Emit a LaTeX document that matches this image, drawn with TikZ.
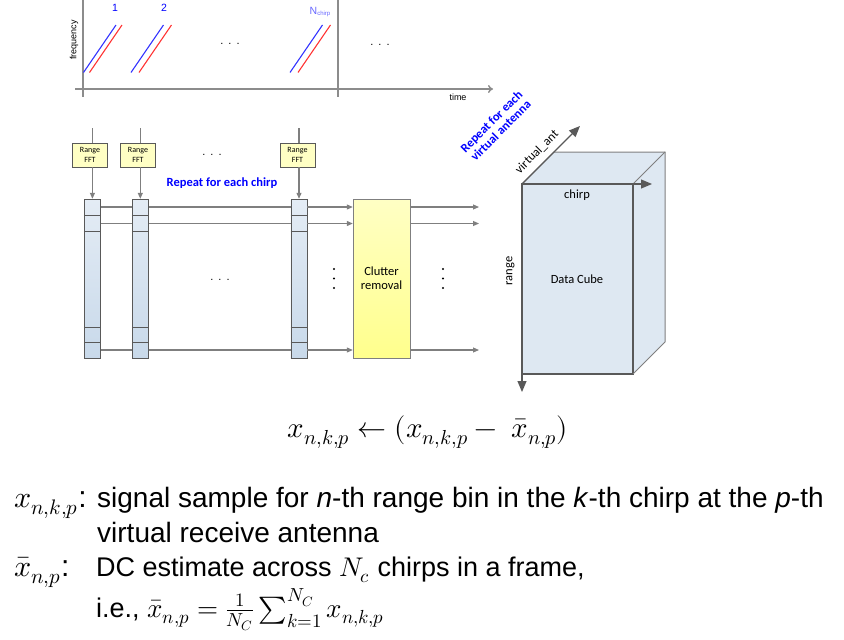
\documentclass[tikz,border=0pt]{standalone}
\usepackage{fontspec}
\usepackage{unicode-math}
\setmainfont{Liberation Sans}
\setmathfont{Latin Modern Math}
\newfontfamily\calib{Carlito}
\usetikzlibrary{arrows.meta}
\definecolor{axgray}{HTML}{8C8C8C}
\definecolor{dgray}{HTML}{595959}
\definecolor{lgray}{HTML}{7F7F7F}
\definecolor{fftfill}{HTML}{FFFFC4}
\definecolor{coltop}{HTML}{E4ECF5}
\definecolor{colbot}{HTML}{C8D9EA}
\definecolor{cubefill}{HTML}{DEE8F2}
\definecolor{chirpblue}{HTML}{3333FF}
\definecolor{chirpred}{HTML}{FF3333}
\definecolor{txtblue}{HTML}{0000FF}
\definecolor{nblue}{HTML}{6666FF}
\tikzset{
  px/.style={font=\fontsize{#1}{#1}\selectfont},
  fftbox/.style={draw=dgray, fill=fftfill, minimum width=35, minimum height=24, inner sep=0, align=center, font=\calib\fontsize{8}{10}\selectfont},
  colbox/.style={draw=dgray, top color=coltop, bottom color=colbot, minimum width=16.5, minimum height=159, inner sep=0},
  conn/.style={draw=lgray, line width=1.1},
  arr/.style={conn, -{Triangle[length=6,width=5]}},
  bigarr/.style={draw=dgray, line width=1.1, -{Triangle[length=11,width=9]}},
  axis/.style={draw=axgray, line width=1.5},
  blab/.style={font=\calib\bfseries\fontsize{12.5}{13}\selectfont, text=txtblue, inner sep=0},
  clab/.style={font=\calib\fontsize{12.5}{14}\selectfont, inner sep=0, align=center},
  dotc/.style={fill=black, draw=none, circle, minimum size=2.2, inner sep=0},
}
\begin{document}
\begin{tikzpicture}[x=1pt,y=-1pt]
\useasboundingbox (0,0) rectangle (844,640);
% ---------- top chart ----------
\coordinate (yT) at (83,0); \coordinate (yB) at (83,97);
\coordinate (xL) at (75,89); \coordinate (xR) at (493,89);
\coordinate (sT) at (338,0); \coordinate (sB) at (338,97);
\draw[axis] (yT) -- (yB);
\draw[axis] (sT) -- (sB);
\draw[axis, -{To[length=5,width=8]}] (xL) -- (xR);
\node[px=9, inner sep=0] (tlab) at (458,97) {time};
\node[px=9, inner sep=0, rotate=90] (flab) at (74,40) {frequency};
% chirps
\coordinate (b1a) at (83.5,72.5); \coordinate (b1b) at (116,25);
\coordinate (r1a) at (89.5,72.5); \coordinate (r1b) at (122,25);
\coordinate (b2a) at (131,72.5); \coordinate (b2b) at (163.5,25);
\coordinate (r2a) at (139,72.5); \coordinate (r2b) at (171.5,25);
\coordinate (b3a) at (290,72.5); \coordinate (b3b) at (322.5,25);
\coordinate (r3a) at (298,72.5); \coordinate (r3b) at (330.5,25);
\foreach \a/\b in {b1a/b1b,b2a/b2b,b3a/b3b} \draw[chirpblue, line width=1.1] (\a) -- (\b);
\foreach \a/\b in {r1a/r1b,r2a/r2b,r3a/r3b} \draw[chirpred, line width=1.1] (\a) -- (\b);
\node[px=10.5, text=txtblue, inner sep=0] (n1) at (115,8) {1};
\node[px=10.5, text=txtblue, inner sep=0] (n2) at (164,8) {2};
\node[px=10.5, text=nblue, inner sep=0] (n3) at (320,12) {N\raisebox{-1.5pt}{\fontsize{6}{6}\selectfont chirp}};
\node[px=11, inner sep=0] (d1) at (230,44) {.\hspace{5pt}.\hspace{5pt}.};
\node[px=11, inner sep=0] (d2) at (380,45) {.\hspace{5pt}.\hspace{5pt}.};
% ---------- range FFT ----------
\node[colbox] (c1) at (92.4,278.5) {};
\node[colbox] (c2) at (140.3,278.5) {};
\node[colbox] (c3) at (299,278.5) {};
\node[fftbox] (f1) at (90,155) {Range\\FFT};
\node[fftbox] (f2) at (138,155) {Range\\FFT};
\node[fftbox] (f3) at (297.5,155) {Range\\FFT};
\node[px=11, inner sep=0] (d3) at (212,155) {.\hspace{5pt}.\hspace{5pt}.};
\coordinate (t1) at (92.4,128); \coordinate (t2) at (140.3,128); \coordinate (t3) at (299,128);
\foreach \c/\f/\t in {c1/f1/t1,c2/f2/t2,c3/f3/t3}{
  \draw[conn] (\t) -- (\t |- \f.north);
  \draw[arr] (\t |- \f.south) -- (\c.north);
  \foreach \yy in {16,32,128,143.5}
    \draw[draw=dgray] ([yshift=-\yy pt]\c.north west) -- ([yshift=-\yy pt]\c.north east);
}
\node[blab, anchor=center] (rep1) at (222,183) {Repeat for each chirp};
% clutter
\node[draw=lgray, top color=fftfill, bottom color=yellow!45, minimum width=57, minimum height=159, inner sep=0, clab] (cl) at (381.5,278.5) {Clutter\\removal};
\coordinate (r1) at (0,207); \coordinate (r2) at (0,223.5); \coordinate (r3) at (0,350);
\coordinate (e1) at (479,207); \coordinate (e2) at (479,223.5); \coordinate (e3) at (479,350);
\foreach \r/\e in {r1/e1,r2/e2,r3/e3}{
  \draw[conn] (c1.east |- \r) -- (c2.west |- \r);
  \draw[conn] (c2.east |- \r) -- (c3.west |- \r);
  \draw[arr] (c3.east |- \r) -- (cl.west |- \r);
  \draw[arr] (cl.east |- \r) -- (\e);
}
\node[px=11, inner sep=0] (d4) at (220,280) {.\hspace{5pt}.\hspace{5pt}.};
\foreach \x/\n in {334/v,443/w}
  \foreach \y/\m in {269/a,278.5/b,288/c}
    \node[dotc] (\n\m) at (\x,\y) {};
% ---------- data cube ----------
\coordinate (A) at (522,184); \coordinate (B) at (633,184);
\coordinate (C) at (633,374); \coordinate (D) at (522,374);
\coordinate (A2) at (554,152); \coordinate (B2) at (665,152);
\coordinate (C2) at (665,342);
\fill[cubefill] (A) -- (A2) -- (B2) -- (C2) -- (C) -- (D) -- cycle;
\draw[dgray, line width=1.1] (A) -- (B) -- (C) -- (D) -- cycle;
\draw[lgray, line width=1] (A) -- (A2) -- (B2) -- (C2) -- (C);
\draw[lgray, line width=1] (B) -- (B2);
\coordinate (va) at (580,126); \coordinate (ca) at (652,184); \coordinate (ra) at (522,392);
\draw[bigarr] (A) -- (va);
\draw[bigarr] (A) -- (ca);
\draw[bigarr] (A) -- (ra);
\node[clab] (chl) at (577,195) {chirp};
\node[clab] (dcl) at (577,279) {Data Cube};
\node[clab, rotate=90] (rgl) at (510.5,271) {range};
\node[clab, rotate=45] (val) at (537,152) {virtual\_ant};
\node[blab, rotate=45, align=center] (rep2) at (496,126) {Repeat for each\\virtual antenna};
% ---------- equations ----------
\node[px=29, inner sep=0] (eq) at (428,432) {$x_{n,k,p} \leftarrow (x_{n,k,p} -\ \bar{x}_{n,p})$};
\node[px=30, inner sep=0, anchor=base west] (m1) at (14,507) {$x_{n,k,p}$:};
\node[px=28, inner sep=0, anchor=base west] (tx1) at (97,507) {signal sample for \textit{n}-th range bin in the \textit{k}-th chirp at the \textit{p}-th};
\node[px=28, inner sep=0, anchor=base west] (tx2) at (97,542) {virtual receive antenna};
\node[px=30, inner sep=0, anchor=base west] (m2) at (14,576) {$\bar{x}_{n,p}$:};
\node[px=27, inner sep=0, anchor=base west] (tx3) at (96,576) {DC estimate across $N_c$ chirps in a frame,};
\node[px=27, inner sep=0, anchor=base west] (tx4) at (96,617) {i.e., $\bar{x}_{n,p} = \frac{1}{N_C}\sum_{k=1}^{N_C} x_{n,k,p}$};
\end{tikzpicture}
\end{document}
